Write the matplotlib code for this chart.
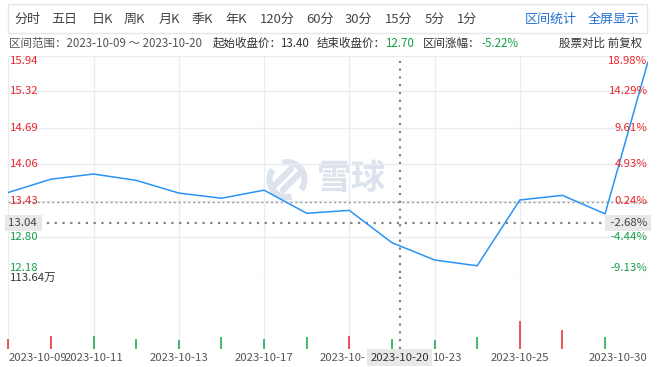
import matplotlib
matplotlib.use("Agg")
import matplotlib.pyplot as plt
from matplotlib.patches import Rectangle, Arc
from matplotlib.transforms import offset_copy

plt.rcParams["font.family"] = ["Noto Sans CJK SC", "DejaVu Sans"]

# chart values
dates = [
    "2023-10-09", "2023-10-10", "2023-10-11", "2023-10-12", "2023-10-13",
    "2023-10-16", "2023-10-17", "2023-10-18", "2023-10-19", "2023-10-20",
    "2023-10-23", "2023-10-24", "2023-10-25", "2023-10-26", "2023-10-27",
    "2023-10-30",
]
prices = [13.57, 13.80, 13.89, 13.78, 13.56, 13.47, 13.61, 13.21,
          13.26, 12.70, 12.40, 12.30, 13.44, 13.52, 13.20, 15.82]
# volume in 万, last day not drawn in the reference
volumes = [14.8, 19.7, 19.7, 15.3, 13.8, 17.8, 15.3, 17.8,
           19.7, 15.3, 13.8, 17.8, 41.5, 28.6, 17.8]
vol_up = [True, True, False, False, False, False, False, False,
          True, False, False, False, True, True, False]
vol_max = 113.64
price_ticks = [12.18, 12.80, 13.43, 14.06, 14.69, 15.32, 15.94]
pct_ticks = ["-9.13%", "-4.44%", "0.24%", "4.93%", "9.61%", "14.29%", "18.98%"]
date_tick_idx = [0, 2, 4, 6, 10, 12, 15]
base_close = 13.40
end_close = 12.70
range_change = "-5.22%"
cursor_idx = 9.18
cursor_date = "2023-10-20"
cursor_price = 13.04
cursor_pct = "-2.68%"
periods = ["分时", "五日", "日K", "周K", "月K", "季K", "年K",
           "120分", "60分", "30分", "15分", "5分", "1分"]

RED = "#e8262b"
GREEN = "#16a048"
GRID = "#e9ecf2"
LINE = "#2a94f4"
TXT = "#333333"
BLUE = "#2570d3"

W, H = 659, 367
fig = plt.figure(figsize=(W / 100, H / 100), dpi=100)


def box(l, t, r, b):
    return [l / W, 1 - b / H, (r - l) / W, (b - t) / H]


# overlay for header, watermark
ov = fig.add_axes([0, 0, 1, 1])
ov.set_xlim(0, W)
ov.set_ylim(H, 0)
ov.axis("off")

ov.add_patch(Rectangle((8.3, 4), 638.4, 29, fill=False, ec="#e4e6ea", lw=1))
period_x = [14, 51.7, 91.7, 124, 158.3, 191.7, 225, 260, 306, 345, 385, 424.3, 456.7]
for px, p in zip(period_x, periods):
    ov.text(px, 19.5, p, fontsize=9.4, color="#444444", va="center", ha="left")
ov.text(525, 19.5, "区间统计", fontsize=9.4, color=BLUE, va="center")
ov.text(588, 19.5, "全屏显示", fontsize=9.4, color=BLUE, va="center")

y2 = 43.5
ov.text(8.7, y2, "区间范围：%s ～ %s" % (dates[0], dates[9]), fontsize=8.3, color="#555555", va="center")
ov.text(212.3, y2, "起始收盘价：", fontsize=8.3, color=TXT, va="center")
ov.text(280, y2, "%.2f" % base_close, fontsize=8.3, color=TXT, va="center")
ov.text(316.7, y2, "结束收盘价：", fontsize=8.3, color=TXT, va="center")
ov.text(385, y2, "%.2f" % end_close, fontsize=8.3, color=GREEN, va="center")
ov.text(422.7, y2, "区间涨幅：", fontsize=8.3, color=TXT, va="center")
ov.text(481.7, y2, range_change, fontsize=8.3, color=GREEN, va="center")
ov.text(642, y2, "股票对比 前复权", fontsize=8.3, color=TXT, va="center", ha="right")

# watermark
wm = "#dde3ec"
ov.add_patch(Arc((287, 179.7), 35, 35, theta1=75, theta2=215, lw=4.5, color=wm))
ov.add_patch(Arc((287, 179.7), 35, 35, theta1=255, theta2=35, lw=4.5, color=wm))
ov.plot([274, 284, 291], [186, 176, 169], color=wm, lw=4.5, solid_capstyle="round")
ov.plot([283, 290, 300], [190, 183, 173], color=wm, lw=4.5, solid_capstyle="round")
ov.text(351.5, 179, "雪球", fontsize=25, color=wm, ha="center", va="center", fontweight="bold")

# price panel
ax = fig.add_axes(box(8.3, 55.7, 647.7, 272.7))
ax.patch.set_alpha(0)
x = list(range(len(prices)))
ax.set_xlim(0, len(prices) - 1)
ax.set_ylim(price_ticks[0], price_ticks[-1])
for s in ax.spines.values():
    s.set_visible(False)
ax.set_xticks([])
ax.set_yticks([])
for t in price_ticks:
    ax.axhline(t, color=GRID, lw=1, zorder=0)
for i in date_tick_idx + [8]:
    ax.axvline(i, color=GRID, lw=1, zorder=0)

ax.axhline(base_close, color="#9a9a9a", lw=1, ls=(0, (1.5, 2)), zorder=1)
ax.axhline(cursor_price, color="#808080", lw=1.6, ls=(0, (1, 2.5)), zorder=1)
ax.axvline(cursor_idx, color="#808080", lw=1.6, ls=(0, (1, 2.5)), zorder=1)
ax.plot(x, prices, color=LINE, lw=1.1, zorder=3)

yt = ax.get_yaxis_transform()
for k, (t, p) in enumerate(zip(price_ticks, pct_ticks)):
    va = "top" if k == len(price_ticks) - 1 else ("bottom" if k == 0 else "center")
    c = RED if t >= base_close else GREEN
    ax.text(0.002, t, "%.2f" % t, transform=yt, fontsize=8.2, color=c, va=va, ha="left")
    ax.text(1.0, t, p, transform=yt, fontsize=8.2, color=c, va=va, ha="right")

ax.text(0.0, cursor_price, "%.2f " % cursor_price, transform=yt, fontsize=8.2, color="#444444",
        va="center", ha="left", zorder=5,
        bbox=dict(boxstyle="square,pad=0.25", fc="#e8e8e8", ec="none"))
ax.text(1.0, cursor_price, " " + cursor_pct, transform=yt, fontsize=8.2, color="#444444",
        va="center", ha="right", zorder=5,
        bbox=dict(boxstyle="square,pad=0.25", fc="#e8e8e8", ec="none"))

# volume panel
vx = fig.add_axes(box(8.3, 272.7, 647.7, 349.3))
vx.patch.set_alpha(0)
vx.set_xlim(0, len(prices) - 1)
vx.set_ylim(0, vol_max)
for s in vx.spines.values():
    s.set_visible(False)
vx.set_xticks([])
vx.set_yticks([])
for i in date_tick_idx + [8]:
    vx.axvline(i, color=GRID, lw=1, zorder=0)
vx.axvline(cursor_idx, color="#808080", lw=1.6, ls=(0, (1, 2.5)), zorder=1)
vx.vlines(range(len(volumes)), 0, volumes, lw=1.1,
          colors=[RED if u else GREEN for u in vol_up], clip_on=False, zorder=2)
vx.text(0.002, 1.0, "%.2f万" % vol_max, transform=vx.transAxes, fontsize=8.2,
        color=TXT, va="top", ha="left")

xt = vx.get_xaxis_transform()
for i in date_tick_idx:
    if i == 10:
        continue
    ha = "left" if i == 0 else ("right" if i == len(prices) - 1 else "center")
    vx.text(i, -0.11, dates[i], transform=xt, fontsize=8.2, color="#555555",
            ha=ha, va="center", clip_on=False)

# labels of 10-19 and 10-23 are partly hidden behind the cursor date box
vx.text(cursor_idx, -0.11, "2023-10-", fontsize=8.2, color="#555555", ha="right", va="center",
        transform=offset_copy(xt, fig=fig, x=-34, y=0, units="dots"))
vx.text(cursor_idx, -0.11, dates[10][5:], fontsize=8.2, color="#555555", ha="left", va="center",
        transform=offset_copy(xt, fig=fig, x=33, y=0, units="dots"))
vx.text(cursor_idx, -0.11, cursor_date, transform=xt, fontsize=8.2, color="#333333",
        ha="center", va="center", zorder=6,
        bbox=dict(boxstyle="square,pad=0.3", fc="#e8e8e8", ec="none"))

fig.savefig("out.png", dpi=100)
